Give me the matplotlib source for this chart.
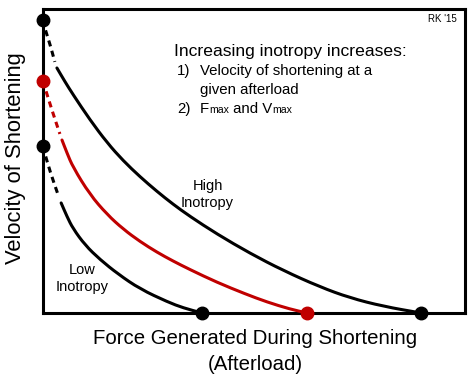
import matplotlib
matplotlib.use("Agg")
import matplotlib.pyplot as plt
from matplotlib.path import Path
from matplotlib.patches import PathPatch
from matplotlib.offsetbox import TextArea, HPacker, AnnotationBbox

plt.rcParams['font.family'] = ['Liberation Sans', 'DejaVu Sans']

# ---- data (arbitrary units: force 0-100, velocity 0-100) ----
# Vmax (velocity at zero load) and Fmax (force at zero velocity)
high_vmax = 96.4
high_fmax = 89.6
mid_vmax = 76.3
mid_fmax = 62.6
low_vmax = 54.9
low_fmax = 37.7

# dashed (extrapolated) part of each curve near the velocity axis
high_dash_f = [0.0, 0.2, 1.7, 2.8]
high_dash_v = [96.4, 94.7, 88.2, 82.6]
mid_dash_f = [0.0, 0.2, 2.1, 4.0]
mid_dash_v = [76.3, 75.3, 66.8, 58.9]
low_dash_f = [0.0, 0.2, 1.7, 3.6]
low_dash_v = [54.9, 53.6, 46.4, 38.8]

# measured (solid) part of each force-velocity curve
high_f = [3.3, 5.2, 7.1, 11.1, 15.2, 19.0, 23.0, 27.0, 30.8, 34.8, 41.2,
          49.1, 56.9, 65.6, 72.7, 80.6, 89.6]
high_v = [80.6, 76.1, 71.9, 63.6, 56.0, 50.1, 44.8, 40.0, 35.8, 31.8, 26.0,
          19.6, 14.0, 8.6, 5.0, 2.2, 0.0]
mid_f = [4.5, 5.7, 7.1, 11.1, 15.2, 19.0, 23.0, 27.0, 30.8, 34.8, 41.2,
         47.9, 53.1, 58.5, 62.6]
mid_v = [56.9, 52.6, 48.0, 39.0, 32.4, 27.6, 23.5, 20.0, 17.1, 14.3, 10.1,
         6.3, 3.6, 1.3, 0.0]
low_f = [4.3, 5.7, 7.1, 10.0, 13.5, 17.8, 23.0, 29.6, 33.2, 37.7]
low_v = [36.2, 31.7, 27.8, 22.3, 17.6, 12.8, 7.9, 3.6, 1.7, 0.0]

black = "#000000"
red = "#C00000"

fig = plt.figure(figsize=(4.74, 3.78), dpi=100)
W, H = 474, 378
ax = fig.add_axes([43 / W, 1 - 313 / H, 422 / W, 304 / H])
ax.set_xlim(0, 100)
ax.set_ylim(0, 100)
ax.set_xticks([])
ax.set_yticks([])
for s in ax.spines.values():
    s.set_linewidth(2.2)
    s.set_color(black)

lw = 2.2


def smooth_path(xs, ys):
    """Quadratic-Bezier path using the data points as control points."""
    pts = list(zip(xs, ys))
    verts = [pts[0]]
    codes = [Path.MOVETO]
    if len(pts) > 2:
        m = ((pts[0][0] + pts[1][0]) / 2, (pts[0][1] + pts[1][1]) / 2)
        verts.append(m)
        codes.append(Path.LINETO)
        for i in range(1, len(pts) - 1):
            m = ((pts[i][0] + pts[i + 1][0]) / 2,
                 (pts[i][1] + pts[i + 1][1]) / 2)
            verts += [pts[i], m]
            codes += [Path.CURVE3, Path.CURVE3]
    verts.append(pts[-1])
    codes.append(Path.LINETO)
    return Path(verts, codes)


curves = [
    (high_dash_f, high_dash_v, high_f, high_v, high_vmax, high_fmax, black),
    (mid_dash_f, mid_dash_v, mid_f, mid_v, mid_vmax, mid_fmax, red),
    (low_dash_f, low_dash_v, low_f, low_v, low_vmax, low_fmax, black),
]
for df, dv, sf, sv, vmax, fmax, c in curves:
    ax.add_patch(PathPatch(smooth_path(df, dv), facecolor='none',
                           edgecolor=c, lw=lw, linestyle=(0, (2.0, 1.5)),
                           capstyle='butt', zorder=3))
    ax.add_patch(PathPatch(smooth_path(sf, sv), facecolor='none',
                           edgecolor=c, lw=lw, capstyle='round', zorder=3))
    ax.plot([0], [vmax], 'o', color=c, ms=9, clip_on=False, zorder=5)
    ax.plot([fmax], [0], 'o', color=c, ms=9, clip_on=False, zorder=5)


def fx(px):
    return px / W


def fy(py):
    return 1 - py / H


# annotation block
fig.text(fx(174), fy(56), "Increasing inotropy increases:", fontsize=12.6,
         ha='left', va='baseline')
fig.text(fx(177), fy(75), "1)", fontsize=10.8, ha='left', va='baseline')
fig.text(fx(200), fy(75), "Velocity of shortening at a", fontsize=10.8,
         ha='left', va='baseline')
fig.text(fx(200), fy(94), "given afterload", fontsize=10.8,
         ha='left', va='baseline')
fig.text(fx(177), fy(113), "2)", fontsize=10.8, ha='left', va='baseline')

parts = [("F", 10.8), ("max", 7.6), (" and V", 10.8), ("max", 7.6)]
boxes = [TextArea(t, textprops=dict(fontsize=s)) for t, s in parts]
pack = HPacker(children=boxes, align="baseline", pad=0, sep=0)
ab = AnnotationBbox(pack, (fx(200), fy(113)), xycoords='figure fraction',
                    box_alignment=(0, 0.22), frameon=False, pad=0)
fig.add_artist(ab)

fig.text(fx(457), fy(22), "RK '15", fontsize=7, ha='right', va='baseline')

# curve labels
fig.text(fx(208), fy(190), "High", fontsize=10.5, ha='center', va='baseline')
fig.text(fx(207.5), fy(207), "Inotropy", fontsize=10.5, ha='center',
         va='baseline')
fig.text(fx(82.5), fy(274), "Low", fontsize=10.5, ha='center', va='baseline')
fig.text(fx(82.5), fy(291), "Inotropy", fontsize=10.5, ha='center',
         va='baseline')

# axis labels
fig.text(fx(255.5), fy(344), "Force Generated During Shortening",
         fontsize=14.7, ha='center', va='baseline')
fig.text(fx(255.5), fy(370), "(Afterload)", fontsize=14.7, ha='center',
         va='baseline')
fig.text(fx(21), fy(158.5), "Velocity of Shortening", fontsize=15.8,
         ha='center', va='baseline', rotation=90, rotation_mode='anchor')

fig.savefig("out.png", dpi=100)
